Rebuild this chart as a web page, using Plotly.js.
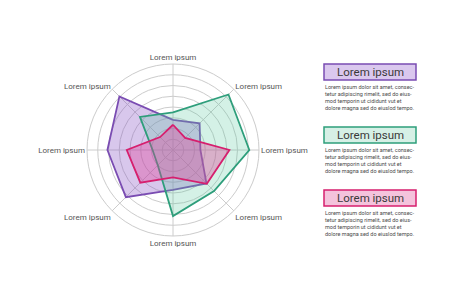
<!DOCTYPE html>
<html>
<head>
<meta charset="utf-8">
<script src="https://cdn.plot.ly/plotly-3.0.1.min.js"></script>
<style>
html,body{margin:0;padding:0;background:#fff;}
#chart{width:474px;height:293px;}
</style>
</head>
<body>
<div id="chart"></div>
<script>
// ---- data ----
const axisLabels = ['Lorem ipsum','Lorem ipsum','Lorem ipsum','Lorem ipsum','Lorem ipsum','Lorem ipsum','Lorem ipsum','Lorem ipsum'];
const seriesPurple = [2.8, 3.5, 2.55, 4.4, 3.7, 6.2, 6.1, 7.05];
const seriesGreen  = [3.5, 7.3, 7.1, 5.4, 6.15, 2.0, 1.9, 4.35];
const seriesPink   = [2.35, 1.6, 5.25, 4.45, 2.55, 4.3, 4.3, 1.7];
const legendTitles = ['Lorem ipsum','Lorem ipsum','Lorem ipsum'];
const legendText = [
  'Lorem ipsum dolor sit amet, consec-<br>tetur adipiscing rimelit, sed do eius-<br>mod temporin ut cididunt vut et<br>dolore magna sed do eiuslod tempo.',
  'Lorem ipsum dolor sit amet, consec-<br>tetur adipiscing rimelit, sed do eius-<br>mod temporin ut cididunt vut et<br>dolore magna sed do eiuslod tempo.',
  'Lorem ipsum dolor sit amet, consec-<br>tetur adipiscing rimelit, sed do eius-<br>mod temporin ut cididunt vut et<br>dolore magna sed do eiuslod tempo.'
];

const n = axisLabels.length;
const thetaVals = axisLabels.map((_, i) => i * 360 / n);
const close = a => a.concat([a[0]]);

const styles = [
  {line:'#7a4cb2', fill:'rgba(140,90,200,0.34)', box:'#dac8ee'},
  {line:'#2e9e7b', fill:'rgba(90,200,160,0.26)', box:'#d6f0e6'},
  {line:'#d61f6e', fill:'rgba(225,60,150,0.36)', box:'#f4c3dc'}
];
const series = [seriesPurple, seriesGreen, seriesPink];

const traces = series.map((s, k) => ({
  type:'scatterpolar',
  mode:'lines',
  r: close(s),
  theta: close(thetaVals),
  fill:'toself',
  fillcolor: styles[k].fill,
  line:{color: styles[k].line, width:1.8},
  hoverinfo:'skip'
}));

const W = 474, H = 293;
const boxX0 = 324, boxX1 = 416, boxH = 16;
const boxTops = [64, 127, 190];
const shapes = [], annotations = [];
boxTops.forEach((t, k) => {
  shapes.push({type:'rect', xref:'paper', yref:'paper',
    x0: boxX0/W, x1: boxX1/W, y0: 1-(t+boxH)/H, y1: 1-t/H,
    fillcolor: styles[k].box, line:{color: styles[k].line, width:1.5}});
  annotations.push({xref:'paper', yref:'paper', x:(boxX0+boxX1)/2/W, y:1-(t+boxH/2)/H,
    text: legendTitles[k], showarrow:false, xanchor:'center', yanchor:'middle',
    font:{family:'Roboto', size:11.5, color:'#3a3a3a'}});
  annotations.push({xref:'paper', yref:'paper', x:(boxX0-1)/W, y:1-(t+boxH+2)/H,
    text: legendText[k], showarrow:false, xanchor:'left', yanchor:'top', align:'left',
    font:{family:'Roboto', size:5.5, color:'#4a4a4a'}});
});

const cx = 173, cy = 150, R = 86;
const layout = {
  width: W, height: H,
  margin:{l:0, r:0, t:0, b:0},
  paper_bgcolor:'#fff',
  showlegend:false,
  polar:{
    domain:{x:[(cx-R)/W, (cx+R)/W], y:[1-(cy+R)/H, 1-(cy-R)/H]},
    bgcolor:'#fff',
    radialaxis:{range:[0,8], dtick:1, showticklabels:false, ticks:'', showline:false,
      gridcolor:'#cccccc', gridwidth:1},
    angularaxis:{rotation:90, direction:'clockwise', tickmode:'array',
      tickvals: thetaVals, ticktext: axisLabels, ticks:'',
      showline:true, linecolor:'#cccccc', linewidth:1,
      gridcolor:'#cccccc', gridwidth:1,
      tickfont:{family:'Roboto', size:8, color:'#555'}}
  },
  shapes: shapes,
  annotations: annotations
};

Plotly.newPlot('chart', traces, layout, {staticPlot:true, displayModeBar:false});
</script>
</body>
</html>
